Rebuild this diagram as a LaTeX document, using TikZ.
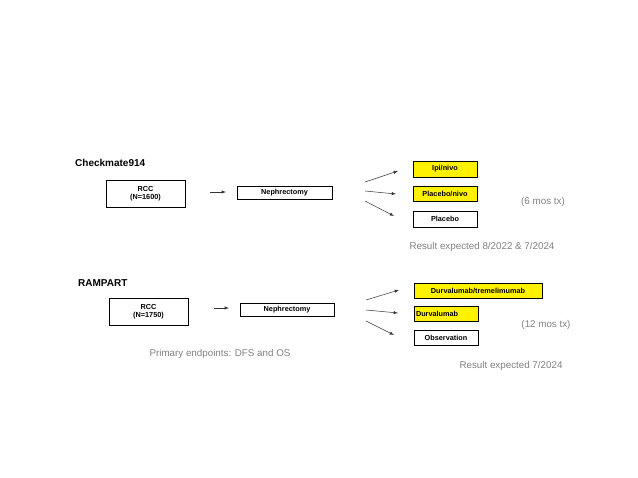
\documentclass[tikz,border=0pt]{standalone}
\usepackage{fontspec}
\setmainfont{Liberation Sans}
\begin{document}
\begin{tikzpicture}[x=1pt,y=-1pt,
 box/.style={draw=black,line width=0.9pt,font=\bfseries\fontsize{7.3}{8.5}\selectfont,inner sep=0pt,align=center},
 hl/.style={box,fill=yellow},
 arr/.style={-latex,line width=0.5pt,black!80},
 note/.style={text=black!50,font=\fontsize{9.8}{11}\selectfont},
 title/.style={font=\bfseries\fontsize{10}{12}\selectfont}]
\useasboundingbox (0,0) rectangle (638,478);
\node[title,anchor=west,inner sep=0pt] (t1) at (75,163) {Checkmate914};
\node[box,minimum width=79pt,minimum height=27pt] (r1) at (145.5,193.5) {RCC\\(N=1600)};
\node[box,minimum width=95pt,minimum height=13pt] (n1) at (284.5,192.5) {Nephrectomy};
\node[hl,minimum width=64pt,minimum height=16pt] (a1) at (445,169) {Ipi/nivo};
\node[hl,minimum width=64pt,minimum height=15pt] (a2) at (445,193.5) {Placebo/nivo};
\node[box,minimum width=64pt,minimum height=16pt] (a3) at (445,219) {Placebo};
\coordinate (s1) at (210,192); \coordinate (e1) at (226,192);
\draw[arr] (s1) -- (e1);
\coordinate (f1) at (365,182); \coordinate (g1) at (398,171);
\coordinate (f2) at (365,191); \coordinate (g2) at (396,194);
\coordinate (f3) at (365,201); \coordinate (g3) at (394,216);
\draw[arr] (f1)--(g1); \draw[arr] (f2)--(g2); \draw[arr] (f3)--(g3);
\node[note] (m1) at (543,202) {(6 mos tx)};
\node[note] (re1) at (482,247) {Result expected 8/2022 \& 7/2024};
\node[title,anchor=west,inner sep=0pt] (t2) at (78,283) {RAMPART};
\node[box,minimum width=79pt,minimum height=27pt] (r2) at (148.5,311.5) {RCC\\(N=1750)};
\node[box,minimum width=94pt,minimum height=13pt] (n2) at (287,309.5) {Nephrectomy};
\node[hl,minimum width=128pt,minimum height=15pt] (b1) at (478,290.5) {Durvalumab/tremelimumab};
\node[hl,minimum width=64pt,minimum height=15pt,text width=60pt,align=left] (b2) at (446,313.5) {Durvalumab};
\node[box,minimum width=64pt,minimum height=15pt] (b3) at (446,337.5) {Observation};
\coordinate (s2) at (214,308); \coordinate (e2) at (229,308);
\draw[arr] (s2) -- (e2);
\coordinate (h1) at (366,300); \coordinate (k1) at (399,290);
\coordinate (h2) at (366,310); \coordinate (k2) at (398,313);
\coordinate (h3) at (366,321); \coordinate (k3) at (394,335);
\draw[arr] (h1)--(k1); \draw[arr] (h2)--(k2); \draw[arr] (h3)--(k3);
\node[note] (m2) at (546,325) {(12 mos tx)};
\node[note] (pe) at (220,354) {Primary endpoints: DFS and OS};
\node[note] (re2) at (511,366) {Result expected 7/2024};
\end{tikzpicture}
\end{document}
